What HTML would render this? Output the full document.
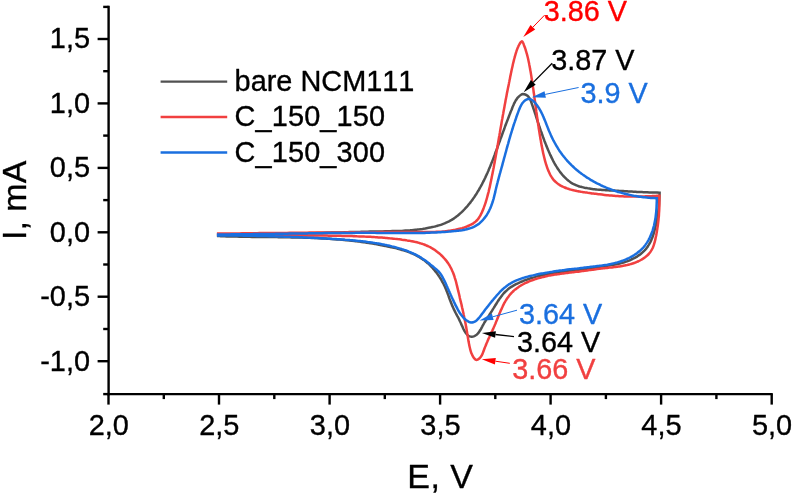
<!DOCTYPE html>
<html><head><meta charset="utf-8"><title>CV</title>
<style>html,body{margin:0;padding:0;background:#fff}body{width:792px;height:494px;overflow:hidden}</style></head>
<body>
<svg width="792" height="494" viewBox="0 0 792 494" style="display:block">
<rect width="792" height="494" fill="#fff"/>
<g fill="none" stroke-width="2.5" stroke-linejoin="miter" stroke-linecap="butt">
<path stroke="#515151" d="M216.9,234.8C217.3,234.8 218.6,234.8 219.4,234.8C220.3,234.8 221.1,234.8 221.9,234.8C222.8,234.8 223.6,234.8 224.4,234.8C225.3,234.8 226.1,234.8 227.0,234.8C227.8,234.8 228.6,234.8 229.5,234.8C230.3,234.8 231.2,234.8 232.0,234.8C232.8,234.8 233.7,234.8 234.5,234.8C235.3,234.8 236.2,234.8 237.0,234.8C237.9,234.8 238.7,234.8 239.5,234.8C240.4,234.8 241.2,234.7 242.0,234.7C242.9,234.7 243.7,234.7 244.6,234.7C245.4,234.7 246.2,234.7 247.1,234.7C247.9,234.7 248.7,234.7 249.6,234.7C250.4,234.6 251.2,234.6 252.1,234.6C252.9,234.6 253.8,234.6 254.6,234.6C255.4,234.6 256.3,234.6 257.1,234.5C257.9,234.5 258.8,234.5 259.6,234.5C260.4,234.5 261.3,234.5 262.1,234.5C263.0,234.5 263.8,234.4 264.6,234.4C265.5,234.4 266.3,234.4 267.1,234.4C268.0,234.4 268.8,234.3 269.6,234.3C270.5,234.3 271.3,234.3 272.2,234.3C273.0,234.3 273.8,234.2 274.7,234.2C275.5,234.2 276.3,234.2 277.2,234.2C278.0,234.1 278.8,234.1 279.7,234.1C280.5,234.1 281.3,234.1 282.2,234.0C283.0,234.0 283.9,234.0 284.7,234.0C285.5,234.0 286.4,233.9 287.2,233.9C288.0,233.9 288.9,233.9 289.7,233.9C290.5,233.8 291.4,233.8 292.2,233.8C293.0,233.8 293.9,233.7 294.7,233.7C295.5,233.7 296.4,233.7 297.2,233.7C298.1,233.6 298.9,233.6 299.7,233.6C300.6,233.6 301.4,233.5 302.2,233.5C303.1,233.5 303.9,233.5 304.7,233.4C305.6,233.4 306.4,233.4 307.2,233.4C308.1,233.4 308.9,233.3 309.8,233.3C310.6,233.3 311.4,233.3 312.3,233.2C313.1,233.2 313.9,233.2 314.8,233.2C315.6,233.1 316.4,233.1 317.3,233.1C318.1,233.1 318.9,233.0 319.8,233.0C320.6,233.0 321.4,233.0 322.3,232.9C323.1,232.9 324.0,232.9 324.8,232.9C325.6,232.8 326.5,232.8 327.3,232.8C328.1,232.8 329.0,232.7 329.8,232.7C330.6,232.7 331.5,232.7 332.3,232.6C333.2,232.6 334.0,232.6 334.8,232.6C335.7,232.5 336.5,232.5 337.3,232.5C338.2,232.5 339.0,232.5 339.8,232.4C340.7,232.4 341.5,232.4 342.4,232.4C343.2,232.3 344.0,232.3 344.9,232.3C345.7,232.3 346.5,232.2 347.4,232.2C348.2,232.2 349.0,232.2 349.9,232.1C350.7,232.1 351.6,232.1 352.4,232.1C353.2,232.1 354.1,232.0 354.9,232.0C355.7,232.0 356.6,232.0 357.4,231.9C358.3,231.9 359.1,231.9 359.9,231.9C360.8,231.9 361.6,231.8 362.4,231.8C363.3,231.8 364.1,231.8 365.0,231.8C365.8,231.7 366.6,231.7 367.5,231.7C368.3,231.7 369.1,231.7 370.0,231.6C370.8,231.6 371.7,231.6 372.5,231.6C373.3,231.6 374.2,231.5 375.0,231.5C375.9,231.5 376.7,231.5 377.5,231.5C378.4,231.4 379.2,231.4 380.0,231.4C380.9,231.4 381.7,231.4 382.6,231.4C383.4,231.3 384.2,231.3 385.1,231.3C385.9,231.3 386.8,231.3 387.6,231.3C388.4,231.2 389.3,231.2 390.1,231.2C391.0,231.2 391.8,231.2 392.6,231.1C393.5,231.1 394.3,231.1 395.1,231.1C396.0,231.0 396.8,231.0 397.7,231.0C398.5,230.9 399.3,230.9 400.2,230.9C401.0,230.8 401.8,230.8 402.7,230.8C403.5,230.7 404.4,230.7 405.2,230.6C406.0,230.6 406.9,230.5 407.7,230.5C408.5,230.4 409.4,230.3 410.2,230.3C411.0,230.2 411.9,230.1 412.7,230.1C413.5,230.0 414.4,229.9 415.2,229.8C416.0,229.7 416.9,229.6 417.7,229.5C418.5,229.4 419.3,229.3 420.2,229.2C421.0,229.1 421.8,229.0 422.6,228.9C423.5,228.7 424.3,228.6 425.1,228.5C425.9,228.3 426.8,228.2 427.6,228.0C428.4,227.9 429.2,227.7 430.1,227.6C430.9,227.4 431.7,227.2 432.5,227.0C433.3,226.9 434.1,226.7 435.0,226.5C435.8,226.3 436.6,226.0 437.4,225.8C438.2,225.6 439.0,225.4 439.8,225.1C440.6,224.9 441.4,224.6 442.1,224.3C442.9,224.0 443.7,223.7 444.5,223.4C445.2,223.1 446.0,222.8 446.8,222.4C447.5,222.1 448.3,221.7 449.0,221.4C449.7,221.0 450.4,220.6 451.2,220.2C451.9,219.7 452.6,219.3 453.3,218.9C454.0,218.4 454.7,217.9 455.3,217.4C456.0,216.9 456.7,216.4 457.3,215.9C458.0,215.4 458.6,214.9 459.3,214.3C459.9,213.8 460.5,213.2 461.2,212.6C461.8,212.1 462.4,211.5 463.0,210.9C463.6,210.3 464.2,209.7 464.8,209.0C465.3,208.4 465.9,207.8 466.5,207.2C467.0,206.5 467.6,205.9 468.1,205.2C468.7,204.6 469.2,203.9 469.7,203.3C470.3,202.6 470.8,201.9 471.3,201.3C471.8,200.6 472.3,199.9 472.8,199.2C473.3,198.5 473.7,197.8 474.2,197.2C474.7,196.5 475.1,195.8 475.6,195.1C476.1,194.4 476.5,193.7 477.0,192.9C477.4,192.2 477.8,191.5 478.3,190.8C478.7,190.1 479.1,189.4 479.5,188.6C479.9,187.9 480.3,187.2 480.7,186.5C481.1,185.7 481.5,185.0 481.9,184.3C482.3,183.5 482.7,182.8 483.1,182.0C483.5,181.3 483.8,180.5 484.2,179.8C484.6,179.1 484.9,178.3 485.3,177.5C485.6,176.8 486.0,176.0 486.3,175.3C486.7,174.5 487.0,173.8 487.4,173.0C487.7,172.2 488.0,171.5 488.4,170.7C488.7,169.9 489.0,169.2 489.3,168.4C489.7,167.6 490.0,166.9 490.3,166.1C490.6,165.3 490.9,164.5 491.2,163.8C491.5,163.0 491.9,162.2 492.2,161.4C492.5,160.6 492.8,159.9 493.1,159.1C493.4,158.3 493.7,157.5 494.0,156.7C494.3,156.0 494.6,155.2 494.9,154.4C495.1,153.6 495.4,152.8 495.7,152.1C496.0,151.3 496.3,150.5 496.6,149.7C496.9,148.9 497.2,148.1 497.5,147.4C497.8,146.6 498.0,145.8 498.3,145.0C498.6,144.2 498.9,143.4 499.2,142.6C499.5,141.9 499.8,141.1 500.1,140.3C500.3,139.5 500.6,138.7 500.9,137.9C501.2,137.2 501.5,136.4 501.8,135.6C502.1,134.8 502.3,134.0 502.6,133.2C502.9,132.4 503.2,131.7 503.5,130.9C503.8,130.1 504.1,129.3 504.4,128.5C504.6,127.7 504.9,126.9 505.2,126.1C505.5,125.4 505.8,124.6 506.1,123.8C506.4,123.0 506.7,122.2 507.0,121.4C507.3,120.6 507.6,119.9 507.9,119.1C508.2,118.3 508.5,117.5 508.8,116.7C509.1,115.9 509.4,115.2 509.7,114.4C510.0,113.6 510.3,112.8 510.6,112.0C510.9,111.2 511.3,110.4 511.6,109.7C511.9,108.9 512.2,108.1 512.5,107.3C512.8,106.5 513.2,105.7 513.5,105.0C513.8,104.2 514.2,103.4 514.6,102.7C514.9,101.9 515.3,101.2 515.7,100.5C516.2,99.8 516.6,99.1 517.1,98.4C517.6,97.8 518.2,97.2 518.8,96.6C519.4,96.0 520.0,95.4 520.7,95.0C521.4,94.6 522.2,94.2 522.9,94.1C523.7,94.1 524.6,94.2 525.3,94.5C526.1,94.8 526.9,95.3 527.5,95.8C528.2,96.4 528.7,97.0 529.2,97.7C529.7,98.4 530.0,99.1 530.4,99.9C530.8,100.6 531.0,101.4 531.3,102.2C531.6,103.0 531.9,103.8 532.1,104.7C532.4,105.5 532.7,106.3 533.0,107.1C533.2,107.9 533.5,108.7 533.8,109.5C534.0,110.3 534.3,111.1 534.6,111.9C534.8,112.7 535.1,113.5 535.4,114.3C535.6,115.1 535.9,115.9 536.1,116.7C536.4,117.5 536.7,118.3 536.9,119.1C537.2,119.9 537.4,120.7 537.7,121.5C538.0,122.3 538.2,123.1 538.5,123.8C538.8,124.6 539.0,125.4 539.3,126.2C539.6,127.0 539.8,127.8 540.1,128.6C540.4,129.4 540.6,130.2 540.9,131.0C541.2,131.7 541.5,132.5 541.7,133.3C542.0,134.1 542.3,134.9 542.6,135.7C542.8,136.5 543.1,137.2 543.4,138.0C543.7,138.8 544.0,139.6 544.3,140.4C544.6,141.1 544.9,141.9 545.2,142.7C545.5,143.5 545.8,144.2 546.1,145.0C546.4,145.8 546.7,146.6 547.0,147.3C547.3,148.1 547.7,148.9 548.0,149.7C548.3,150.4 548.7,151.2 549.0,152.0C549.3,152.7 549.7,153.5 550.0,154.3C550.4,155.0 550.7,155.8 551.1,156.5C551.4,157.3 551.8,158.1 552.2,158.8C552.5,159.6 552.9,160.3 553.3,161.1C553.7,161.8 554.1,162.5 554.5,163.3C554.9,164.0 555.3,164.7 555.8,165.5C556.2,166.2 556.6,166.9 557.1,167.6C557.5,168.3 558.0,169.0 558.5,169.7C558.9,170.4 559.4,171.1 559.9,171.7C560.4,172.4 560.9,173.1 561.5,173.7C562.0,174.4 562.5,175.0 563.1,175.6C563.6,176.2 564.2,176.8 564.8,177.4C565.4,178.0 566.0,178.6 566.6,179.2C567.2,179.7 567.9,180.3 568.5,180.8C569.2,181.3 569.9,181.8 570.5,182.3C571.2,182.7 571.9,183.2 572.6,183.6C573.4,184.0 574.1,184.4 574.9,184.7C575.6,185.1 576.4,185.4 577.2,185.7C577.9,186.0 578.7,186.2 579.6,186.5C580.4,186.7 581.2,186.9 582.0,187.1C582.8,187.3 583.7,187.5 584.5,187.7C585.3,187.8 586.2,188.0 587.0,188.1C587.8,188.3 588.6,188.4 589.5,188.5C590.3,188.7 591.1,188.8 592.0,188.9C592.8,189.0 593.6,189.1 594.5,189.2C595.3,189.3 596.1,189.4 597.0,189.5C597.8,189.5 598.6,189.6 599.5,189.7C600.3,189.8 601.1,189.8 602.0,189.9C602.8,190.0 603.6,190.0 604.5,190.1C605.3,190.1 606.1,190.2 607.0,190.2C607.8,190.3 608.6,190.3 609.5,190.4C610.3,190.4 611.1,190.5 612.0,190.5C612.8,190.6 613.6,190.6 614.5,190.6C615.3,190.7 616.1,190.7 617.0,190.8C617.8,190.8 618.6,190.9 619.5,190.9C620.3,191.0 621.1,191.0 622.0,191.0C622.8,191.1 623.6,191.1 624.5,191.2C625.3,191.2 626.1,191.3 627.0,191.3C627.8,191.4 628.7,191.4 629.5,191.5C630.3,191.5 631.2,191.6 632.0,191.6C632.8,191.6 633.7,191.7 634.5,191.7C635.3,191.8 636.2,191.8 637.0,191.9C637.9,191.9 638.7,191.9 639.5,192.0C640.4,192.0 641.2,192.1 642.0,192.1C642.9,192.1 643.7,192.2 644.6,192.2C645.4,192.3 646.2,192.3 647.1,192.3C647.9,192.4 648.7,192.4 649.6,192.4C650.4,192.5 651.2,192.5 652.1,192.5C652.9,192.5 653.8,192.6 654.6,192.6C655.4,192.6 656.3,192.6 657.1,192.6C657.9,192.7 659.2,192.7 659.6,192.7 C659.6,193.1 659.6,194.4 659.5,195.3C659.5,196.1 659.5,196.9 659.4,197.8C659.4,198.6 659.3,199.5 659.3,200.3C659.2,201.1 659.2,202.0 659.1,202.8C659.1,203.6 659.0,204.5 658.9,205.3C658.8,206.1 658.8,206.9 658.7,207.8C658.6,208.6 658.5,209.4 658.4,210.2C658.3,211.0 658.2,211.8 658.1,212.7C658.0,213.5 657.9,214.3 657.7,215.1C657.6,215.9 657.5,216.7 657.4,217.6C657.2,218.4 657.1,219.2 656.9,220.0C656.8,220.8 656.6,221.6 656.4,222.4C656.3,223.3 656.1,224.1 655.9,224.9C655.7,225.7 655.5,226.5 655.3,227.4C655.1,228.2 654.9,229.0 654.7,229.8C654.5,230.6 654.3,231.5 654.0,232.3C653.8,233.1 653.6,233.9 653.3,234.7C653.0,235.5 652.8,236.3 652.5,237.1C652.2,237.9 651.9,238.7 651.5,239.5C651.2,240.3 650.9,241.0 650.5,241.8C650.1,242.5 649.7,243.3 649.3,244.0C648.9,244.7 648.5,245.4 648.0,246.1C647.6,246.8 647.1,247.4 646.6,248.1C646.1,248.7 645.6,249.4 645.0,250.0C644.5,250.6 643.9,251.1 643.3,251.7C642.7,252.3 642.1,252.8 641.5,253.3C640.8,253.9 640.2,254.4 639.5,254.9C638.8,255.3 638.1,255.8 637.4,256.3C636.7,256.7 636.0,257.1 635.3,257.6C634.5,258.0 633.8,258.4 633.0,258.7C632.3,259.1 631.5,259.5 630.7,259.8C630.0,260.2 629.2,260.5 628.4,260.8C627.6,261.1 626.8,261.4 626.0,261.7C625.2,262.0 624.4,262.2 623.6,262.5C622.8,262.7 622.0,262.9 621.1,263.1C620.3,263.4 619.5,263.6 618.7,263.7C617.9,263.9 617.1,264.1 616.3,264.3C615.4,264.4 614.6,264.6 613.8,264.7C613.0,264.9 612.2,265.0 611.3,265.1C610.5,265.2 609.7,265.4 608.9,265.5C608.1,265.6 607.2,265.7 606.4,265.8C605.6,266.0 604.8,266.1 604.0,266.2C603.1,266.3 602.3,266.4 601.5,266.5C600.7,266.7 599.9,266.8 599.0,266.9C598.2,267.1 597.4,267.2 596.6,267.3C595.8,267.5 594.9,267.6 594.1,267.7C593.3,267.9 592.5,268.0 591.6,268.1C590.8,268.3 590.0,268.4 589.2,268.5C588.3,268.6 587.5,268.8 586.7,268.9C585.9,269.0 585.0,269.1 584.2,269.2C583.4,269.3 582.5,269.4 581.7,269.5C580.9,269.6 580.1,269.7 579.2,269.8C578.4,269.9 577.6,270.0 576.7,270.1C575.9,270.2 575.1,270.3 574.2,270.4C573.4,270.5 572.6,270.6 571.7,270.7C570.9,270.8 570.1,270.9 569.2,271.0C568.4,271.1 567.6,271.2 566.7,271.3C565.9,271.4 565.1,271.5 564.3,271.7C563.4,271.8 562.6,271.9 561.8,272.0C560.9,272.1 560.1,272.2 559.3,272.3C558.4,272.4 557.6,272.5 556.8,272.7C556.0,272.8 555.1,272.9 554.3,273.0C553.5,273.2 552.7,273.3 551.8,273.4C551.0,273.6 550.2,273.7 549.4,273.8C548.6,274.0 547.7,274.1 546.9,274.3C546.1,274.4 545.3,274.6 544.5,274.8C543.7,274.9 542.8,275.1 542.0,275.3C541.2,275.5 540.4,275.6 539.6,275.8C538.8,276.0 538.0,276.2 537.2,276.4C536.4,276.6 535.6,276.8 534.8,277.1C534.0,277.3 533.2,277.5 532.4,277.8C531.6,278.0 530.8,278.2 530.0,278.5C529.2,278.7 528.4,279.0 527.6,279.3C526.8,279.6 526.1,279.8 525.3,280.1C524.5,280.4 523.7,280.7 522.9,281.1C522.2,281.4 521.4,281.7 520.6,282.0C519.8,282.4 519.1,282.7 518.3,283.1C517.6,283.4 516.8,283.8 516.0,284.2C515.3,284.6 514.6,285.0 513.8,285.4C513.1,285.8 512.4,286.2 511.7,286.7C511.0,287.1 510.3,287.6 509.6,288.1C508.9,288.6 508.3,289.1 507.6,289.6C507.0,290.1 506.4,290.7 505.8,291.3C505.2,291.8 504.6,292.4 504.0,293.0C503.5,293.7 502.9,294.3 502.4,294.9C501.9,295.6 501.4,296.2 500.9,296.9C500.4,297.6 499.9,298.2 499.4,298.9C498.9,299.6 498.5,300.3 498.0,301.0C497.6,301.7 497.1,302.4 496.7,303.2C496.2,303.9 495.8,304.6 495.3,305.3C494.9,306.0 494.5,306.7 494.0,307.5C493.6,308.2 493.2,308.9 492.7,309.6C492.3,310.3 491.9,311.0 491.4,311.7C491.0,312.4 490.5,313.1 490.1,313.8C489.6,314.5 489.2,315.2 488.8,315.8C488.3,316.5 487.9,317.2 487.4,317.9C487.0,318.6 486.5,319.3 486.1,320.0C485.6,320.7 485.2,321.4 484.8,322.1C484.3,322.8 483.9,323.6 483.5,324.3C483.1,325.0 482.6,325.8 482.2,326.6C481.8,327.3 481.4,328.1 481.0,328.9C480.5,329.6 480.1,330.4 479.6,331.1C479.2,331.8 478.7,332.5 478.2,333.2C477.6,333.8 477.1,334.4 476.4,334.9C475.8,335.4 475.1,335.8 474.4,336.1C473.6,336.4 472.8,336.7 472.0,336.7C471.3,336.8 470.5,336.7 469.7,336.4C469.0,336.2 468.3,335.7 467.7,335.2C467.0,334.7 466.5,334.0 466.0,333.3C465.4,332.6 465.0,331.8 464.5,331.1C464.1,330.3 463.7,329.5 463.3,328.7C463.0,327.9 462.6,327.1 462.3,326.3C461.9,325.6 461.6,324.8 461.2,324.1C460.9,323.3 460.6,322.6 460.2,321.8C459.9,321.1 459.5,320.4 459.2,319.6C458.8,318.9 458.4,318.2 458.1,317.4C457.7,316.7 457.3,316.0 456.9,315.2C456.5,314.5 456.1,313.7 455.7,313.0C455.3,312.2 454.9,311.5 454.6,310.7C454.2,310.0 453.8,309.2 453.5,308.5C453.1,307.7 452.8,306.9 452.4,306.2C452.1,305.4 451.8,304.6 451.5,303.8C451.2,303.1 450.9,302.3 450.6,301.5C450.3,300.7 450.0,299.9 449.7,299.2C449.4,298.4 449.1,297.6 448.8,296.8C448.6,296.0 448.3,295.2 448.0,294.5C447.7,293.7 447.4,292.9 447.1,292.1C446.8,291.4 446.5,290.6 446.2,289.8C445.9,289.0 445.5,288.3 445.2,287.5C444.9,286.7 444.5,286.0 444.1,285.2C443.8,284.5 443.4,283.7 443.0,283.0C442.6,282.2 442.2,281.5 441.8,280.8C441.4,280.0 441.0,279.3 440.5,278.6C440.1,277.9 439.6,277.2 439.2,276.5C438.7,275.8 438.2,275.1 437.8,274.4C437.3,273.7 436.8,273.0 436.3,272.4C435.7,271.7 435.2,271.1 434.7,270.4C434.2,269.8 433.6,269.1 433.0,268.5C432.5,267.9 431.9,267.3 431.3,266.7C430.8,266.1 430.2,265.5 429.6,264.9C429.0,264.3 428.4,263.8 427.7,263.2C427.1,262.7 426.5,262.2 425.8,261.6C425.2,261.1 424.5,260.6 423.9,260.1C423.2,259.6 422.5,259.2 421.8,258.7C421.2,258.2 420.5,257.8 419.8,257.4C419.1,256.9 418.3,256.5 417.6,256.1C416.9,255.7 416.2,255.4 415.4,255.0C414.7,254.6 413.9,254.3 413.2,253.9C412.4,253.6 411.7,253.3 410.9,253.0C410.1,252.6 409.4,252.3 408.6,252.1C407.8,251.8 407.0,251.5 406.2,251.2C405.4,250.9 404.6,250.7 403.8,250.4C403.0,250.2 402.2,249.9 401.4,249.7C400.6,249.5 399.8,249.3 399.0,249.0C398.2,248.8 397.4,248.6 396.6,248.4C395.7,248.2 394.9,248.0 394.1,247.8C393.3,247.6 392.4,247.4 391.6,247.2C390.8,247.0 390.0,246.9 389.1,246.7C388.3,246.5 387.5,246.3 386.7,246.2C385.8,246.0 385.0,245.8 384.2,245.7C383.4,245.5 382.5,245.3 381.7,245.2C380.9,245.0 380.1,244.9 379.2,244.7C378.4,244.6 377.6,244.4 376.8,244.3C375.9,244.1 375.1,244.0 374.3,243.8C373.5,243.7 372.6,243.6 371.8,243.4C371.0,243.3 370.1,243.2 369.3,243.0C368.5,242.9 367.7,242.8 366.8,242.7C366.0,242.5 365.2,242.4 364.4,242.3C363.5,242.2 362.7,242.1 361.9,242.0C361.0,241.9 360.2,241.7 359.4,241.6C358.6,241.5 357.7,241.4 356.9,241.3C356.1,241.2 355.2,241.1 354.4,241.0C353.6,240.9 352.8,240.8 351.9,240.8C351.1,240.7 350.3,240.6 349.4,240.5C348.6,240.4 347.8,240.3 347.0,240.2C346.1,240.2 345.3,240.1 344.5,240.0C343.6,239.9 342.8,239.8 342.0,239.8C341.1,239.7 340.3,239.6 339.5,239.6C338.6,239.5 337.8,239.4 337.0,239.4C336.2,239.3 335.3,239.2 334.5,239.2C333.7,239.1 332.8,239.0 332.0,239.0C331.2,238.9 330.3,238.9 329.5,238.8C328.7,238.8 327.8,238.7 327.0,238.7C326.2,238.6 325.4,238.6 324.5,238.5C323.7,238.5 322.9,238.4 322.0,238.4C321.2,238.3 320.4,238.3 319.5,238.3C318.7,238.2 317.9,238.2 317.0,238.1C316.2,238.1 315.4,238.1 314.5,238.0C313.7,238.0 312.9,238.0 312.0,237.9C311.2,237.9 310.4,237.9 309.5,237.8C308.7,237.8 307.9,237.8 307.0,237.8C306.2,237.7 305.4,237.7 304.5,237.7C303.7,237.6 302.9,237.6 302.0,237.6C301.2,237.6 300.4,237.6 299.5,237.5C298.7,237.5 297.9,237.5 297.0,237.5C296.2,237.5 295.4,237.4 294.5,237.4C293.7,237.4 292.9,237.4 292.0,237.4C291.2,237.3 290.4,237.3 289.5,237.3C288.7,237.3 287.9,237.3 287.0,237.3C286.2,237.3 285.4,237.2 284.5,237.2C283.7,237.2 282.9,237.2 282.0,237.2C281.2,237.2 280.4,237.2 279.5,237.2C278.7,237.2 277.9,237.1 277.0,237.1C276.2,237.1 275.4,237.1 274.5,237.1C273.7,237.1 272.9,237.1 272.0,237.1C271.2,237.1 270.3,237.1 269.5,237.0C268.7,237.0 267.8,237.0 267.0,237.0C266.2,237.0 265.3,237.0 264.5,237.0C263.7,237.0 262.8,237.0 262.0,237.0C261.2,237.0 260.3,237.0 259.5,236.9C258.7,236.9 257.8,236.9 257.0,236.9C256.2,236.9 255.3,236.9 254.5,236.9C253.6,236.9 252.8,236.9 252.0,236.9C251.1,236.8 250.3,236.8 249.5,236.8C248.6,236.8 247.8,236.8 247.0,236.8C246.1,236.8 245.3,236.8 244.5,236.7C243.6,236.7 242.8,236.7 242.0,236.7C241.1,236.7 240.3,236.7 239.5,236.7C238.6,236.6 237.8,236.6 236.9,236.6C236.1,236.6 235.3,236.6 234.4,236.6C233.6,236.5 232.8,236.5 231.9,236.5C231.1,236.5 230.3,236.4 229.4,236.4C228.6,236.4 227.8,236.4 226.9,236.4C226.1,236.3 225.3,236.3 224.4,236.3C223.6,236.2 222.7,236.2 221.9,236.2C221.1,236.2 220.2,236.1 219.4,236.1C218.6,236.1 217.3,236.0 216.9,236.0"/>
<path stroke="#F14040" d="M216.9,233.6C217.3,233.6 218.6,233.6 219.4,233.6C220.3,233.6 221.1,233.6 221.9,233.5C222.8,233.5 223.6,233.5 224.4,233.5C225.3,233.5 226.1,233.5 227.0,233.5C227.8,233.5 228.6,233.5 229.5,233.5C230.3,233.5 231.1,233.4 232.0,233.4C232.8,233.4 233.7,233.4 234.5,233.4C235.3,233.4 236.2,233.4 237.0,233.4C237.8,233.4 238.7,233.4 239.5,233.4C240.3,233.3 241.2,233.3 242.0,233.3C242.9,233.3 243.7,233.3 244.5,233.3C245.4,233.3 246.2,233.3 247.0,233.3C247.9,233.3 248.7,233.3 249.5,233.2C250.4,233.2 251.2,233.2 252.1,233.2C252.9,233.2 253.7,233.2 254.6,233.2C255.4,233.2 256.2,233.2 257.1,233.2C257.9,233.2 258.7,233.2 259.6,233.1C260.4,233.1 261.2,233.1 262.1,233.1C262.9,233.1 263.7,233.1 264.6,233.1C265.4,233.1 266.3,233.1 267.1,233.1C267.9,233.1 268.8,233.0 269.6,233.0C270.4,233.0 271.3,233.0 272.1,233.0C272.9,233.0 273.8,233.0 274.6,233.0C275.4,233.0 276.3,233.0 277.1,233.0C277.9,233.0 278.8,232.9 279.6,232.9C280.4,232.9 281.3,232.9 282.1,232.9C282.9,232.9 283.8,232.9 284.6,232.9C285.4,232.9 286.3,232.9 287.1,232.9C288.0,232.8 288.8,232.8 289.6,232.8C290.5,232.8 291.3,232.8 292.1,232.8C293.0,232.8 293.8,232.8 294.6,232.8C295.5,232.8 296.3,232.8 297.1,232.8C298.0,232.8 298.8,232.7 299.6,232.7C300.5,232.7 301.3,232.7 302.1,232.7C303.0,232.7 303.8,232.7 304.6,232.7C305.5,232.7 306.3,232.7 307.1,232.7C308.0,232.7 308.8,232.7 309.6,232.6C310.5,232.6 311.3,232.6 312.1,232.6C313.0,232.6 313.8,232.6 314.6,232.6C315.5,232.6 316.3,232.6 317.1,232.6C318.0,232.6 318.8,232.6 319.6,232.6C320.5,232.5 321.3,232.5 322.1,232.5C323.0,232.5 323.8,232.5 324.7,232.5C325.5,232.5 326.3,232.5 327.2,232.5C328.0,232.5 328.8,232.5 329.7,232.5C330.5,232.5 331.3,232.5 332.2,232.5C333.0,232.4 333.8,232.4 334.7,232.4C335.5,232.4 336.3,232.4 337.2,232.4C338.0,232.4 338.8,232.4 339.7,232.4C340.5,232.4 341.3,232.4 342.2,232.4C343.0,232.4 343.8,232.4 344.7,232.4C345.5,232.3 346.3,232.3 347.2,232.3C348.0,232.3 348.8,232.3 349.7,232.3C350.5,232.3 351.3,232.3 352.2,232.3C353.0,232.3 353.9,232.3 354.7,232.3C355.5,232.3 356.4,232.3 357.2,232.3C358.0,232.3 358.9,232.3 359.7,232.3C360.5,232.2 361.4,232.2 362.2,232.2C363.0,232.2 363.9,232.2 364.7,232.2C365.5,232.2 366.4,232.2 367.2,232.2C368.0,232.2 368.9,232.2 369.7,232.2C370.6,232.2 371.4,232.2 372.2,232.2C373.1,232.2 373.9,232.2 374.7,232.2C375.6,232.2 376.4,232.2 377.2,232.2C378.1,232.2 378.9,232.1 379.7,232.1C380.6,232.1 381.4,232.1 382.3,232.1C383.1,232.1 383.9,232.1 384.8,232.1C385.6,232.1 386.4,232.1 387.3,232.1C388.1,232.1 388.9,232.1 389.8,232.1C390.6,232.1 391.5,232.1 392.3,232.1C393.1,232.1 394.0,232.1 394.8,232.1C395.6,232.1 396.5,232.1 397.3,232.1C398.2,232.1 399.0,232.1 399.8,232.1C400.7,232.1 401.5,232.1 402.3,232.1C403.2,232.1 404.0,232.1 404.9,232.1C405.7,232.1 406.5,232.1 407.4,232.1C408.2,232.0 409.0,232.0 409.9,232.0C410.7,232.0 411.6,232.0 412.4,232.0C413.2,232.0 414.1,232.0 414.9,232.0C415.8,232.0 416.6,232.0 417.4,232.0C418.3,232.0 419.1,232.0 419.9,232.0C420.8,232.0 421.6,232.0 422.5,232.0C423.3,232.0 424.1,232.0 425.0,232.0C425.8,232.0 426.7,232.0 427.5,232.0C428.3,232.0 429.2,232.0 430.0,232.0C430.9,232.0 431.7,232.0 432.5,231.9C433.4,231.9 434.2,231.9 435.0,231.9C435.9,231.9 436.7,231.8 437.5,231.8C438.4,231.7 439.2,231.7 440.0,231.7C440.9,231.6 441.7,231.5 442.5,231.5C443.4,231.4 444.2,231.3 445.0,231.3C445.9,231.2 446.7,231.1 447.5,231.0C448.3,230.9 449.2,230.8 450.0,230.7C450.8,230.6 451.6,230.4 452.4,230.3C453.3,230.2 454.1,230.0 454.9,229.9C455.7,229.7 456.5,229.5 457.3,229.3C458.1,229.2 458.9,229.0 459.7,228.7C460.6,228.5 461.4,228.3 462.2,228.1C463.0,227.8 463.8,227.6 464.6,227.3C465.4,227.0 466.1,226.8 466.9,226.5C467.7,226.1 468.5,225.8 469.3,225.5C470.0,225.1 470.8,224.8 471.5,224.4C472.2,224.0 473.0,223.5 473.6,223.1C474.3,222.6 475.0,222.1 475.6,221.6C476.2,221.1 476.8,220.5 477.3,219.9C477.9,219.3 478.4,218.6 478.8,218.0C479.3,217.3 479.8,216.6 480.2,215.8C480.6,215.1 481.0,214.3 481.3,213.6C481.7,212.8 482.1,212.0 482.4,211.2C482.7,210.5 483.0,209.7 483.4,208.9C483.7,208.1 484.0,207.3 484.2,206.5C484.5,205.7 484.8,204.9 485.1,204.1C485.4,203.3 485.6,202.5 485.9,201.7C486.1,200.9 486.4,200.0 486.6,199.2C486.8,198.4 487.1,197.6 487.3,196.8C487.5,196.0 487.7,195.2 487.9,194.4C488.1,193.6 488.4,192.8 488.6,192.0C488.7,191.2 488.9,190.4 489.1,189.5C489.3,188.7 489.5,187.9 489.7,187.1C489.9,186.3 490.0,185.5 490.2,184.7C490.4,183.9 490.6,183.0 490.7,182.2C490.9,181.4 491.1,180.6 491.2,179.8C491.4,179.0 491.6,178.2 491.7,177.3C491.9,176.5 492.1,175.7 492.2,174.9C492.4,174.1 492.6,173.3 492.7,172.4C492.9,171.6 493.0,170.8 493.2,170.0C493.3,169.2 493.5,168.4 493.7,167.5C493.8,166.7 494.0,165.9 494.1,165.1C494.3,164.3 494.4,163.4 494.6,162.6C494.7,161.8 494.9,161.0 495.0,160.2C495.2,159.3 495.3,158.5 495.5,157.7C495.6,156.9 495.8,156.1 495.9,155.2C496.1,154.4 496.2,153.6 496.4,152.8C496.5,152.0 496.6,151.1 496.8,150.3C496.9,149.5 497.1,148.7 497.2,147.8C497.4,147.0 497.5,146.2 497.7,145.4C497.8,144.6 497.9,143.7 498.1,142.9C498.2,142.1 498.4,141.3 498.5,140.4C498.7,139.6 498.8,138.8 498.9,138.0C499.1,137.1 499.2,136.3 499.4,135.5C499.5,134.7 499.6,133.9 499.8,133.0C499.9,132.2 500.1,131.4 500.2,130.6C500.4,129.7 500.5,128.9 500.6,128.1C500.8,127.3 500.9,126.4 501.1,125.6C501.2,124.8 501.4,124.0 501.5,123.1C501.6,122.3 501.8,121.5 501.9,120.7C502.1,119.8 502.2,119.0 502.4,118.2C502.5,117.4 502.7,116.5 502.8,115.7C503.0,114.9 503.1,114.1 503.3,113.2C503.4,112.4 503.6,111.6 503.7,110.7C503.9,109.9 504.0,109.1 504.2,108.3C504.3,107.4 504.5,106.6 504.6,105.8C504.8,105.0 504.9,104.1 505.1,103.3C505.2,102.5 505.4,101.7 505.5,100.8C505.7,100.0 505.8,99.2 506.0,98.4C506.2,97.6 506.3,96.7 506.5,95.9C506.6,95.1 506.8,94.3 506.9,93.4C507.1,92.6 507.3,91.8 507.4,91.0C507.6,90.2 507.7,89.4 507.9,88.5C508.1,87.7 508.2,86.9 508.4,86.1C508.6,85.3 508.7,84.5 508.9,83.7C509.0,82.8 509.2,82.0 509.4,81.2C509.5,80.4 509.7,79.6 509.9,78.8C510.0,78.0 510.2,77.2 510.3,76.4C510.5,75.6 510.7,74.8 510.8,74.0C511.0,73.2 511.2,72.4 511.3,71.6C511.5,70.8 511.7,70.0 511.8,69.2C512.0,68.4 512.2,67.6 512.4,66.8C512.6,66.0 512.7,65.2 512.9,64.3C513.1,63.5 513.3,62.7 513.5,61.9C513.7,61.1 513.9,60.2 514.1,59.4C514.4,58.6 514.6,57.7 514.8,56.9C515.0,56.0 515.3,55.1 515.5,54.3C515.8,53.4 516.0,52.5 516.3,51.7C516.6,50.8 516.9,50.0 517.2,49.1C517.5,48.3 517.8,47.5 518.2,46.7C518.5,45.9 518.9,45.2 519.3,44.5C519.7,43.8 520.1,43.0 520.6,42.5C521.0,42.0 521.5,41.3 521.9,41.3C522.3,41.3 522.7,42.0 523.0,42.6C523.4,43.2 523.6,44.1 523.9,44.9C524.2,45.6 524.5,46.4 524.8,47.2C525.1,48.0 525.3,48.8 525.6,49.6C525.8,50.4 526.1,51.2 526.3,52.0C526.5,52.8 526.7,53.6 527.0,54.4C527.2,55.2 527.4,56.0 527.6,56.8C527.8,57.6 528.0,58.4 528.2,59.2C528.4,60.1 528.5,60.9 528.7,61.7C528.9,62.5 529.1,63.3 529.2,64.2C529.4,65.0 529.5,65.8 529.7,66.6C529.8,67.5 530.0,68.3 530.1,69.1C530.3,69.9 530.4,70.8 530.6,71.6C530.7,72.4 530.9,73.3 531.0,74.1C531.1,74.9 531.3,75.8 531.4,76.6C531.5,77.4 531.6,78.3 531.8,79.1C531.9,79.9 532.0,80.7 532.2,81.6C532.3,82.4 532.4,83.2 532.5,84.1C532.6,84.9 532.8,85.7 532.9,86.6C533.0,87.4 533.1,88.2 533.3,89.1C533.4,89.9 533.5,90.7 533.6,91.5C533.7,92.4 533.8,93.2 534.0,94.0C534.1,94.9 534.2,95.7 534.3,96.5C534.4,97.4 534.5,98.2 534.6,99.0C534.8,99.8 534.9,100.7 535.0,101.5C535.1,102.3 535.2,103.2 535.3,104.0C535.4,104.8 535.5,105.6 535.7,106.5C535.8,107.3 535.9,108.1 536.0,109.0C536.1,109.8 536.2,110.6 536.3,111.4C536.5,112.3 536.6,113.1 536.7,113.9C536.8,114.7 536.9,115.6 537.0,116.4C537.1,117.2 537.3,118.0 537.4,118.9C537.5,119.7 537.6,120.5 537.7,121.3C537.9,122.2 538.0,123.0 538.1,123.8C538.2,124.6 538.3,125.5 538.5,126.3C538.6,127.1 538.7,127.9 538.8,128.7C539.0,129.6 539.1,130.4 539.2,131.2C539.4,132.0 539.5,132.8 539.6,133.7C539.8,134.5 539.9,135.3 540.0,136.1C540.2,136.9 540.3,137.8 540.4,138.6C540.6,139.4 540.7,140.2 540.9,141.0C541.0,141.8 541.1,142.7 541.3,143.5C541.4,144.3 541.6,145.1 541.7,145.9C541.9,146.7 542.1,147.5 542.2,148.4C542.4,149.2 542.5,150.0 542.7,150.8C542.9,151.6 543.0,152.4 543.2,153.2C543.4,154.0 543.6,154.9 543.8,155.7C544.0,156.5 544.1,157.3 544.4,158.1C544.6,158.9 544.8,159.8 545.0,160.6C545.2,161.4 545.5,162.2 545.7,163.0C545.9,163.9 546.2,164.7 546.5,165.5C546.7,166.3 547.0,167.2 547.3,168.0C547.6,168.8 547.9,169.6 548.2,170.4C548.6,171.2 548.9,172.0 549.3,172.8C549.6,173.6 550.0,174.3 550.4,175.1C550.8,175.8 551.3,176.5 551.7,177.2C552.2,177.9 552.6,178.6 553.1,179.2C553.6,179.9 554.2,180.5 554.7,181.0C555.3,181.6 555.9,182.1 556.5,182.6C557.1,183.2 557.7,183.6 558.3,184.1C559.0,184.5 559.7,185.0 560.3,185.4C561.0,185.8 561.7,186.2 562.5,186.5C563.2,186.9 563.9,187.2 564.7,187.5C565.4,187.8 566.2,188.1 567.0,188.4C567.8,188.7 568.6,188.9 569.4,189.2C570.2,189.4 571.0,189.6 571.8,189.9C572.7,190.1 573.5,190.3 574.3,190.4C575.2,190.6 576.0,190.8 576.9,191.0C577.7,191.1 578.6,191.3 579.4,191.4C580.3,191.6 581.1,191.7 582.0,191.9C582.8,192.0 583.7,192.1 584.5,192.3C585.4,192.4 586.2,192.5 587.1,192.6C587.9,192.8 588.8,192.9 589.6,193.0C590.4,193.1 591.3,193.3 592.1,193.4C592.9,193.5 593.8,193.6 594.6,193.7C595.4,193.8 596.3,193.9 597.1,194.0C597.9,194.1 598.7,194.2 599.6,194.3C600.4,194.4 601.2,194.5 602.0,194.6C602.8,194.7 603.7,194.8 604.5,194.9C605.3,195.0 606.1,195.1 606.9,195.2C607.7,195.3 608.6,195.3 609.4,195.4C610.2,195.5 611.0,195.6 611.8,195.6C612.6,195.7 613.5,195.8 614.3,195.8C615.1,195.9 615.9,195.9 616.7,196.0C617.6,196.1 618.4,196.1 619.2,196.2C620.0,196.2 620.9,196.2 621.7,196.3C622.5,196.3 623.3,196.4 624.2,196.4C625.0,196.4 625.8,196.4 626.7,196.5C627.5,196.5 628.4,196.5 629.2,196.5C630.0,196.5 630.9,196.5 631.7,196.5C632.6,196.5 633.4,196.5 634.3,196.5C635.1,196.5 636.0,196.5 636.8,196.5C637.7,196.5 638.5,196.5 639.4,196.5C640.2,196.5 641.0,196.5 641.9,196.4C642.7,196.4 643.6,196.4 644.4,196.4C645.3,196.4 646.1,196.3 647.0,196.3C647.8,196.3 648.6,196.2 649.5,196.2C650.3,196.2 651.2,196.1 652.0,196.1C652.8,196.0 653.7,196.0 654.5,196.0C655.3,195.9 656.1,195.9 657.0,195.8C657.8,195.8 659.0,195.7 659.4,195.7 C659.4,196.1 659.4,197.4 659.4,198.3C659.4,199.1 659.4,200.0 659.4,200.8C659.4,201.7 659.4,202.5 659.4,203.3C659.4,204.2 659.4,205.0 659.4,205.8C659.4,206.7 659.3,207.5 659.3,208.3C659.3,209.2 659.2,210.0 659.2,210.8C659.1,211.6 659.1,212.5 659.0,213.3C659.0,214.1 658.9,214.9 658.9,215.8C658.8,216.6 658.7,217.4 658.6,218.2C658.6,219.0 658.5,219.8 658.4,220.7C658.3,221.5 658.2,222.3 658.1,223.1C658.0,223.9 657.9,224.8 657.8,225.6C657.7,226.4 657.6,227.2 657.4,228.0C657.3,228.9 657.2,229.7 657.0,230.5C656.9,231.3 656.8,232.2 656.6,233.0C656.5,233.8 656.3,234.7 656.2,235.5C656.0,236.3 655.8,237.2 655.6,238.0C655.5,238.8 655.3,239.7 655.1,240.5C654.9,241.4 654.7,242.2 654.4,243.0C654.2,243.8 654.0,244.6 653.7,245.4C653.4,246.2 653.1,247.0 652.8,247.8C652.4,248.6 652.1,249.3 651.6,250.0C651.2,250.7 650.8,251.4 650.3,252.1C649.8,252.7 649.3,253.4 648.8,254.0C648.2,254.6 647.6,255.2 647.0,255.7C646.4,256.3 645.7,256.8 645.1,257.3C644.4,257.8 643.7,258.3 643.0,258.7C642.3,259.2 641.6,259.6 640.8,260.0C640.1,260.4 639.4,260.8 638.6,261.1C637.9,261.5 637.1,261.8 636.4,262.1C635.6,262.5 634.8,262.8 634.1,263.0C633.3,263.3 632.5,263.6 631.7,263.8C630.9,264.0 630.1,264.3 629.3,264.5C628.5,264.7 627.7,264.9 626.9,265.1C626.1,265.3 625.3,265.4 624.5,265.6C623.7,265.7 622.8,265.9 622.0,266.0C621.2,266.2 620.4,266.3 619.5,266.4C618.7,266.5 617.9,266.7 617.0,266.8C616.2,266.9 615.4,267.0 614.5,267.1C613.7,267.2 612.8,267.3 612.0,267.4C611.2,267.5 610.3,267.5 609.5,267.6C608.6,267.7 607.8,267.8 607.0,267.9C606.1,268.0 605.3,268.1 604.4,268.2C603.6,268.3 602.8,268.3 601.9,268.4C601.1,268.5 600.3,268.7 599.4,268.8C598.6,268.9 597.8,269.0 597.0,269.1C596.1,269.2 595.3,269.3 594.5,269.4C593.7,269.5 592.8,269.6 592.0,269.8C591.2,269.9 590.4,270.0 589.5,270.1C588.7,270.2 587.9,270.3 587.1,270.5C586.2,270.6 585.4,270.7 584.6,270.8C583.8,270.9 583.0,271.0 582.1,271.1C581.3,271.2 580.5,271.3 579.7,271.4C578.8,271.5 578.0,271.6 577.2,271.7C576.4,271.8 575.5,271.9 574.7,272.0C573.9,272.1 573.1,272.2 572.2,272.3C571.4,272.4 570.6,272.5 569.8,272.6C568.9,272.7 568.1,272.8 567.3,272.9C566.5,273.0 565.6,273.1 564.8,273.2C564.0,273.3 563.2,273.4 562.3,273.5C561.5,273.6 560.7,273.7 559.9,273.9C559.0,274.0 558.2,274.1 557.4,274.2C556.6,274.3 555.7,274.5 554.9,274.6C554.1,274.7 553.3,274.9 552.5,275.0C551.6,275.1 550.8,275.3 550.0,275.4C549.2,275.6 548.3,275.8 547.5,275.9C546.7,276.1 545.9,276.3 545.1,276.5C544.2,276.7 543.4,276.8 542.6,277.1C541.8,277.3 541.0,277.5 540.2,277.7C539.3,277.9 538.5,278.1 537.7,278.4C536.9,278.6 536.1,278.9 535.3,279.1C534.5,279.4 533.7,279.7 532.9,280.0C532.1,280.3 531.3,280.6 530.5,280.9C529.7,281.2 528.9,281.5 528.2,281.8C527.4,282.2 526.6,282.5 525.9,282.9C525.1,283.2 524.4,283.6 523.6,284.0C522.9,284.4 522.2,284.8 521.4,285.2C520.7,285.7 520.0,286.1 519.3,286.5C518.6,287.0 518.0,287.4 517.3,287.9C516.6,288.4 516.0,288.9 515.3,289.4C514.7,289.9 514.1,290.5 513.5,291.0C512.9,291.6 512.3,292.1 511.7,292.7C511.2,293.3 510.6,293.9 510.1,294.5C509.6,295.1 509.0,295.8 508.6,296.4C508.1,297.1 507.6,297.7 507.1,298.4C506.7,299.1 506.2,299.8 505.8,300.5C505.4,301.2 504.9,302.0 504.5,302.7C504.1,303.4 503.8,304.2 503.4,304.9C503.0,305.7 502.6,306.5 502.3,307.2C501.9,308.0 501.6,308.8 501.2,309.6C500.9,310.3 500.5,311.1 500.2,311.9C499.9,312.7 499.5,313.5 499.2,314.3C498.9,315.1 498.6,315.9 498.2,316.7C497.9,317.5 497.6,318.3 497.3,319.0C497.0,319.8 496.6,320.6 496.3,321.4C496.0,322.2 495.7,322.9 495.4,323.7C495.0,324.5 494.7,325.2 494.4,326.0C494.0,326.8 493.7,327.5 493.4,328.3C493.0,329.0 492.7,329.7 492.4,330.5C492.0,331.2 491.7,332.0 491.3,332.7C491.0,333.4 490.7,334.2 490.3,334.9C490.0,335.7 489.6,336.4 489.3,337.2C489.0,337.9 488.6,338.6 488.3,339.4C487.9,340.2 487.6,340.9 487.3,341.7C487.0,342.4 486.6,343.2 486.3,344.0C486.0,344.8 485.7,345.6 485.4,346.3C485.0,347.1 484.7,348.0 484.4,348.8C484.1,349.6 483.8,350.4 483.5,351.2C483.2,352.0 482.9,352.9 482.6,353.7C482.2,354.4 481.8,355.2 481.4,355.9C481.0,356.6 480.5,357.3 479.9,357.9C479.4,358.5 478.7,359.1 478.1,359.4C477.4,359.8 476.7,360.1 476.0,359.9C475.4,359.7 474.8,359.0 474.3,358.4C473.7,357.8 473.3,357.0 472.9,356.3C472.4,355.6 472.1,354.8 471.8,354.0C471.4,353.3 471.1,352.5 470.9,351.7C470.6,350.9 470.4,350.0 470.2,349.2C470.0,348.4 469.8,347.6 469.6,346.7C469.4,345.9 469.2,345.1 469.1,344.2C468.9,343.4 468.8,342.6 468.6,341.8C468.5,340.9 468.3,340.1 468.2,339.3C468.0,338.4 467.9,337.6 467.8,336.8C467.6,335.9 467.5,335.1 467.4,334.3C467.2,333.5 467.1,332.6 467.0,331.8C466.8,331.0 466.7,330.2 466.6,329.4C466.4,328.5 466.3,327.7 466.1,326.9C466.0,326.1 465.8,325.3 465.7,324.5C465.5,323.6 465.4,322.8 465.2,322.0C465.1,321.2 464.9,320.4 464.7,319.6C464.6,318.8 464.4,318.0 464.2,317.2C464.1,316.3 463.9,315.5 463.7,314.7C463.6,313.9 463.4,313.1 463.2,312.3C463.0,311.5 462.8,310.7 462.7,309.9C462.5,309.1 462.3,308.3 462.1,307.5C461.9,306.6 461.7,305.8 461.6,305.0C461.4,304.2 461.2,303.4 461.0,302.6C460.8,301.8 460.6,301.0 460.4,300.2C460.2,299.4 460.0,298.5 459.8,297.7C459.7,296.9 459.5,296.1 459.3,295.3C459.1,294.5 458.9,293.6 458.7,292.8C458.5,292.0 458.3,291.2 458.1,290.4C457.9,289.5 457.7,288.7 457.5,287.9C457.3,287.1 457.1,286.2 456.9,285.4C456.7,284.6 456.5,283.8 456.3,282.9C456.1,282.1 455.9,281.3 455.7,280.5C455.4,279.7 455.2,278.9 454.9,278.1C454.7,277.3 454.4,276.5 454.2,275.7C453.9,274.9 453.6,274.1 453.3,273.3C453.0,272.5 452.7,271.8 452.3,271.0C452.0,270.2 451.7,269.5 451.3,268.7C450.9,268.0 450.5,267.3 450.1,266.5C449.7,265.8 449.3,265.1 448.9,264.4C448.4,263.7 448.0,263.0 447.5,262.4C447.0,261.7 446.5,261.0 446.0,260.4C445.5,259.7 444.9,259.1 444.4,258.5C443.8,257.8 443.3,257.2 442.7,256.6C442.1,256.0 441.5,255.5 440.9,254.9C440.3,254.3 439.7,253.8 439.1,253.3C438.4,252.7 437.8,252.2 437.1,251.7C436.4,251.2 435.8,250.7 435.1,250.2C434.4,249.8 433.7,249.3 433.0,248.9C432.3,248.5 431.6,248.0 430.9,247.6C430.1,247.2 429.4,246.9 428.7,246.5C427.9,246.1 427.2,245.8 426.4,245.5C425.6,245.1 424.9,244.8 424.1,244.5C423.3,244.3 422.5,244.0 421.8,243.7C421.0,243.5 420.2,243.2 419.4,243.0C418.6,242.8 417.8,242.5 417.0,242.3C416.2,242.1 415.3,241.9 414.5,241.8C413.7,241.6 412.9,241.4 412.1,241.2C411.2,241.1 410.4,240.9 409.6,240.8C408.7,240.6 407.9,240.5 407.1,240.4C406.2,240.2 405.4,240.1 404.6,240.0C403.7,239.9 402.9,239.8 402.1,239.7C401.2,239.5 400.4,239.4 399.5,239.3C398.7,239.2 397.9,239.1 397.0,239.0C396.2,238.9 395.4,238.8 394.5,238.8C393.7,238.7 392.8,238.6 392.0,238.5C391.2,238.4 390.3,238.3 389.5,238.3C388.7,238.2 387.8,238.1 387.0,238.0C386.2,237.9 385.3,237.9 384.5,237.8C383.7,237.7 382.8,237.7 382.0,237.6C381.2,237.5 380.3,237.5 379.5,237.4C378.7,237.4 377.8,237.3 377.0,237.2C376.2,237.2 375.3,237.1 374.5,237.1C373.7,237.0 372.8,237.0 372.0,236.9C371.2,236.9 370.3,236.8 369.5,236.8C368.7,236.8 367.9,236.7 367.0,236.7C366.2,236.6 365.4,236.6 364.5,236.6C363.7,236.5 362.9,236.5 362.0,236.5C361.2,236.4 360.4,236.4 359.5,236.4C358.7,236.3 357.9,236.3 357.0,236.3C356.2,236.2 355.4,236.2 354.6,236.2C353.7,236.2 352.9,236.1 352.1,236.1C351.2,236.1 350.4,236.1 349.6,236.0C348.7,236.0 347.9,236.0 347.1,236.0C346.3,236.0 345.4,235.9 344.6,235.9C343.8,235.9 342.9,235.9 342.1,235.9C341.3,235.9 340.4,235.8 339.6,235.8C338.8,235.8 337.9,235.8 337.1,235.8C336.3,235.8 335.4,235.8 334.6,235.7C333.8,235.7 332.9,235.7 332.1,235.7C331.3,235.7 330.5,235.7 329.6,235.7C328.8,235.7 328.0,235.6 327.1,235.6C326.3,235.6 325.5,235.6 324.6,235.6C323.8,235.6 323.0,235.6 322.1,235.6C321.3,235.6 320.4,235.5 319.6,235.5C318.8,235.5 317.9,235.5 317.1,235.5C316.3,235.5 315.4,235.5 314.6,235.5C313.8,235.5 312.9,235.4 312.1,235.4C311.3,235.4 310.4,235.4 309.6,235.4C308.8,235.4 307.9,235.4 307.1,235.4C306.3,235.4 305.4,235.4 304.6,235.4C303.7,235.3 302.9,235.3 302.1,235.3C301.2,235.3 300.4,235.3 299.6,235.3C298.7,235.3 297.9,235.3 297.1,235.3C296.2,235.3 295.4,235.3 294.5,235.3C293.7,235.2 292.9,235.2 292.0,235.2C291.2,235.2 290.4,235.2 289.5,235.2C288.7,235.2 287.9,235.2 287.0,235.2C286.2,235.2 285.3,235.2 284.5,235.2C283.7,235.2 282.8,235.1 282.0,235.1C281.2,235.1 280.3,235.1 279.5,235.1C278.7,235.1 277.8,235.1 277.0,235.1C276.1,235.1 275.3,235.1 274.5,235.1C273.6,235.1 272.8,235.1 272.0,235.0C271.1,235.0 270.3,235.0 269.4,235.0C268.6,235.0 267.8,235.0 266.9,235.0C266.1,235.0 265.3,235.0 264.4,235.0C263.6,235.0 262.8,235.0 261.9,235.0C261.1,235.0 260.2,234.9 259.4,234.9C258.6,234.9 257.7,234.9 256.9,234.9C256.1,234.9 255.2,234.9 254.4,234.9C253.6,234.9 252.7,234.9 251.9,234.9C251.1,234.9 250.2,234.9 249.4,234.8C248.5,234.8 247.7,234.8 246.9,234.8C246.0,234.8 245.2,234.8 244.4,234.8C243.5,234.8 242.7,234.8 241.9,234.8C241.0,234.8 240.2,234.8 239.4,234.8C238.5,234.7 237.7,234.7 236.9,234.7C236.0,234.7 235.2,234.7 234.4,234.7C233.5,234.7 232.7,234.7 231.9,234.7C231.0,234.7 230.2,234.7 229.4,234.6C228.5,234.6 227.7,234.6 226.9,234.6C226.0,234.6 225.2,234.6 224.4,234.6C223.5,234.6 222.7,234.6 221.9,234.6C221.1,234.6 220.2,234.5 219.4,234.5C218.6,234.5 217.3,234.5 216.9,234.5"/>
<path stroke="#1A6FDF" d="M216.9,234.4C217.3,234.4 218.6,234.4 219.4,234.4C220.2,234.4 221.0,234.4 221.9,234.4C222.7,234.4 223.5,234.4 224.4,234.4C225.2,234.4 226.0,234.4 226.9,234.4C227.7,234.4 228.5,234.4 229.4,234.4C230.2,234.4 231.0,234.4 231.9,234.3C232.7,234.3 233.5,234.3 234.3,234.3C235.2,234.3 236.0,234.3 236.8,234.3C237.7,234.3 238.5,234.3 239.3,234.3C240.2,234.3 241.0,234.3 241.8,234.3C242.7,234.3 243.5,234.3 244.3,234.2C245.2,234.2 246.0,234.2 246.8,234.2C247.7,234.2 248.5,234.2 249.3,234.2C250.2,234.2 251.0,234.2 251.8,234.2C252.7,234.2 253.5,234.2 254.3,234.1C255.2,234.1 256.0,234.1 256.8,234.1C257.7,234.1 258.5,234.1 259.3,234.1C260.2,234.1 261.0,234.1 261.8,234.0C262.7,234.0 263.5,234.0 264.3,234.0C265.2,234.0 266.0,234.0 266.8,234.0C267.7,234.0 268.5,234.0 269.3,233.9C270.2,233.9 271.0,233.9 271.8,233.9C272.7,233.9 273.5,233.9 274.3,233.9C275.2,233.9 276.0,233.8 276.9,233.8C277.7,233.8 278.5,233.8 279.4,233.8C280.2,233.8 281.0,233.8 281.9,233.8C282.7,233.7 283.5,233.7 284.4,233.7C285.2,233.7 286.0,233.7 286.9,233.7C287.7,233.7 288.5,233.7 289.4,233.6C290.2,233.6 291.0,233.6 291.9,233.6C292.7,233.6 293.6,233.6 294.4,233.6C295.2,233.5 296.1,233.5 296.9,233.5C297.7,233.5 298.6,233.5 299.4,233.5C300.2,233.5 301.1,233.5 301.9,233.4C302.7,233.4 303.6,233.4 304.4,233.4C305.2,233.4 306.1,233.4 306.9,233.4C307.8,233.4 308.6,233.3 309.4,233.3C310.3,233.3 311.1,233.3 311.9,233.3C312.8,233.3 313.6,233.3 314.4,233.3C315.3,233.2 316.1,233.2 316.9,233.2C317.8,233.2 318.6,233.2 319.4,233.2C320.3,233.2 321.1,233.2 322.0,233.2C322.8,233.1 323.6,233.1 324.5,233.1C325.3,233.1 326.1,233.1 327.0,233.1C327.8,233.1 328.6,233.1 329.5,233.1C330.3,233.1 331.1,233.0 332.0,233.0C332.8,233.0 333.6,233.0 334.5,233.0C335.3,233.0 336.1,233.0 337.0,233.0C337.8,233.0 338.6,233.0 339.5,233.0C340.3,233.0 341.1,232.9 342.0,232.9C342.8,232.9 343.7,232.9 344.5,232.9C345.3,232.9 346.2,232.9 347.0,232.9C347.8,232.9 348.7,232.9 349.5,232.9C350.3,232.9 351.2,232.9 352.0,232.9C352.8,232.9 353.7,232.9 354.5,232.9C355.3,232.9 356.2,232.8 357.0,232.8C357.8,232.8 358.7,232.8 359.5,232.8C360.3,232.8 361.2,232.8 362.0,232.8C362.8,232.8 363.7,232.8 364.5,232.8C365.3,232.8 366.2,232.8 367.0,232.8C367.8,232.8 368.6,232.8 369.5,232.8C370.3,232.8 371.1,232.8 372.0,232.8C372.8,232.8 373.6,232.8 374.5,232.8C375.3,232.8 376.1,232.8 377.0,232.9C377.8,232.9 378.6,232.9 379.5,232.9C380.3,232.9 381.1,232.9 382.0,232.9C382.8,232.9 383.6,232.9 384.4,232.9C385.3,232.9 386.1,232.9 386.9,232.9C387.8,232.9 388.6,232.9 389.4,232.9C390.3,232.9 391.1,233.0 391.9,233.0C392.7,233.0 393.6,233.0 394.4,233.0C395.2,233.0 396.1,233.0 396.9,233.0C397.7,233.0 398.6,233.0 399.4,233.0C400.2,233.0 401.0,233.0 401.9,233.0C402.7,233.0 403.5,233.0 404.4,233.0C405.2,233.0 406.0,233.0 406.9,233.0C407.7,233.0 408.5,233.0 409.4,233.0C410.2,233.0 411.0,233.0 411.8,233.0C412.7,233.0 413.5,233.0 414.3,233.0C415.2,233.0 416.0,233.0 416.8,233.0C417.7,233.0 418.5,233.0 419.3,233.0C420.2,233.0 421.0,232.9 421.8,232.9C422.7,232.9 423.5,232.9 424.3,232.9C425.2,232.8 426.0,232.8 426.8,232.8C427.7,232.8 428.5,232.8 429.3,232.7C430.2,232.7 431.0,232.7 431.8,232.6C432.7,232.6 433.5,232.6 434.3,232.5C435.2,232.5 436.0,232.5 436.8,232.4C437.7,232.4 438.5,232.3 439.4,232.3C440.2,232.2 441.0,232.2 441.9,232.1C442.7,232.1 443.5,232.0 444.4,232.0C445.2,231.9 446.1,231.8 446.9,231.8C447.7,231.7 448.6,231.6 449.4,231.6C450.3,231.5 451.1,231.4 452.0,231.3C452.8,231.3 453.6,231.2 454.5,231.1C455.3,231.0 456.2,230.9 457.0,230.8C457.8,230.7 458.7,230.6 459.5,230.5C460.4,230.4 461.2,230.3 462.0,230.2C462.9,230.0 463.7,229.9 464.5,229.7C465.3,229.6 466.1,229.4 466.9,229.2C467.7,229.0 468.5,228.8 469.3,228.5C470.1,228.3 470.9,228.0 471.6,227.8C472.4,227.5 473.1,227.2 473.9,226.8C474.6,226.5 475.3,226.1 476.0,225.7C476.7,225.3 477.4,224.8 478.1,224.4C478.7,223.9 479.4,223.4 480.0,222.8C480.6,222.3 481.2,221.7 481.8,221.1C482.4,220.6 483.0,219.9 483.5,219.3C484.1,218.6 484.6,218.0 485.1,217.3C485.6,216.6 486.1,215.9 486.6,215.2C487.0,214.5 487.5,213.7 487.9,213.0C488.3,212.3 488.7,211.5 489.1,210.8C489.5,210.0 489.8,209.2 490.2,208.5C490.5,207.7 490.8,206.9 491.1,206.2C491.4,205.4 491.7,204.6 492.0,203.8C492.3,203.0 492.5,202.3 492.8,201.5C493.0,200.7 493.2,199.9 493.5,199.1C493.7,198.3 493.9,197.5 494.1,196.7C494.3,195.9 494.5,195.1 494.7,194.3C494.9,193.5 495.1,192.7 495.3,191.9C495.4,191.1 495.6,190.3 495.8,189.5C496.0,188.7 496.2,187.8 496.4,187.0C496.6,186.2 496.8,185.4 497.0,184.6C497.2,183.8 497.4,183.0 497.6,182.2C497.8,181.3 498.0,180.5 498.3,179.7C498.5,178.9 498.7,178.1 498.9,177.3C499.1,176.5 499.4,175.6 499.6,174.8C499.8,174.0 500.0,173.2 500.3,172.4C500.5,171.6 500.7,170.8 500.9,170.0C501.2,169.1 501.4,168.3 501.6,167.5C501.8,166.7 502.1,165.9 502.3,165.1C502.5,164.3 502.7,163.5 502.9,162.7C503.2,161.9 503.4,161.1 503.6,160.3C503.8,159.5 504.0,158.7 504.2,157.9C504.5,157.1 504.7,156.3 504.9,155.5C505.1,154.7 505.3,153.9 505.5,153.1C505.8,152.3 506.0,151.5 506.2,150.7C506.4,149.9 506.6,149.1 506.8,148.3C507.1,147.5 507.3,146.7 507.5,145.9C507.7,145.2 507.9,144.4 508.2,143.6C508.4,142.8 508.6,142.0 508.8,141.2C509.1,140.4 509.3,139.6 509.5,138.8C509.7,138.0 510.0,137.2 510.2,136.4C510.4,135.6 510.7,134.8 510.9,134.0C511.1,133.3 511.4,132.5 511.6,131.7C511.9,130.9 512.1,130.1 512.4,129.3C512.6,128.5 512.9,127.7 513.1,126.9C513.4,126.1 513.6,125.3 513.9,124.5C514.1,123.7 514.4,122.9 514.7,122.1C514.9,121.3 515.2,120.5 515.5,119.7C515.8,118.9 516.1,118.1 516.3,117.2C516.6,116.4 516.9,115.6 517.2,114.8C517.5,114.0 517.8,113.2 518.1,112.4C518.4,111.6 518.7,110.7 519.0,109.9C519.4,109.1 519.7,108.3 520.0,107.5C520.4,106.7 520.8,105.9 521.2,105.2C521.6,104.5 522.0,103.8 522.5,103.1C522.9,102.4 523.5,101.8 524.0,101.3C524.6,100.7 525.2,100.2 525.9,99.8C526.6,99.5 527.3,99.1 528.0,99.0C528.7,98.9 529.5,98.9 530.1,99.1C530.8,99.3 531.5,99.6 532.1,100.0C532.8,100.4 533.4,101.0 534.0,101.6C534.6,102.2 535.2,102.9 535.7,103.6C536.3,104.2 536.8,105.0 537.3,105.7C537.8,106.4 538.3,107.1 538.8,107.9C539.2,108.6 539.6,109.4 540.1,110.1C540.5,110.8 540.9,111.6 541.3,112.3C541.6,113.1 542.0,113.8 542.4,114.6C542.7,115.3 543.1,116.1 543.4,116.8C543.7,117.6 544.0,118.3 544.3,119.1C544.7,119.9 545.0,120.6 545.3,121.4C545.6,122.2 545.9,122.9 546.2,123.7C546.5,124.5 546.8,125.2 547.1,126.0C547.4,126.8 547.7,127.5 548.0,128.3C548.3,129.1 548.6,129.8 548.9,130.6C549.2,131.4 549.6,132.1 549.9,132.9C550.2,133.7 550.6,134.4 550.9,135.2C551.3,136.0 551.6,136.7 552.0,137.5C552.3,138.3 552.7,139.0 553.1,139.8C553.5,140.5 553.9,141.3 554.3,142.0C554.7,142.8 555.1,143.5 555.5,144.2C555.9,145.0 556.3,145.7 556.8,146.4C557.2,147.1 557.6,147.9 558.1,148.6C558.5,149.3 559.0,150.0 559.4,150.7C559.9,151.4 560.4,152.1 560.9,152.8C561.4,153.4 561.8,154.1 562.3,154.8C562.8,155.4 563.4,156.1 563.9,156.8C564.4,157.4 564.9,158.0 565.5,158.7C566.0,159.3 566.5,159.9 567.1,160.6C567.6,161.2 568.2,161.8 568.8,162.4C569.3,163.0 569.9,163.6 570.5,164.2C571.1,164.8 571.7,165.3 572.3,165.9C572.9,166.5 573.5,167.0 574.1,167.6C574.7,168.2 575.3,168.7 575.9,169.2C576.6,169.8 577.2,170.3 577.8,170.8C578.5,171.4 579.1,171.9 579.8,172.4C580.4,172.9 581.1,173.4 581.8,173.9C582.4,174.4 583.1,174.9 583.8,175.3C584.4,175.8 585.1,176.3 585.8,176.7C586.5,177.2 587.2,177.7 587.9,178.1C588.6,178.6 589.3,179.0 590.0,179.4C590.7,179.9 591.4,180.3 592.2,180.7C592.9,181.1 593.6,181.5 594.3,181.9C595.1,182.3 595.8,182.7 596.5,183.1C597.3,183.5 598.0,183.9 598.8,184.2C599.5,184.6 600.3,185.0 601.0,185.3C601.8,185.7 602.6,186.0 603.3,186.4C604.1,186.7 604.9,187.0 605.6,187.4C606.4,187.7 607.2,188.0 608.0,188.3C608.7,188.6 609.5,188.9 610.3,189.2C611.1,189.5 611.9,189.8 612.7,190.1C613.5,190.4 614.3,190.6 615.0,190.9C615.8,191.2 616.6,191.4 617.4,191.7C618.2,191.9 619.1,192.2 619.9,192.4C620.7,192.7 621.5,192.9 622.3,193.1C623.1,193.3 623.9,193.5 624.7,193.7C625.5,194.0 626.3,194.2 627.2,194.3C628.0,194.5 628.8,194.7 629.6,194.9C630.4,195.1 631.3,195.3 632.1,195.4C632.9,195.6 633.7,195.7 634.6,195.9C635.4,196.0 636.2,196.2 637.0,196.3C637.8,196.4 638.7,196.6 639.5,196.7C640.3,196.8 641.2,196.9 642.0,197.0C642.8,197.1 643.6,197.2 644.5,197.3C645.3,197.4 646.1,197.5 646.9,197.6C647.8,197.7 648.6,197.7 649.4,197.8C650.2,197.9 651.1,197.9 651.9,198.0C652.7,198.0 653.5,198.1 654.3,198.1C655.2,198.1 656.4,198.2 656.8,198.2 C656.8,198.6 656.8,199.8 656.8,200.6C656.8,201.4 656.8,202.2 656.7,203.0C656.7,203.8 656.7,204.6 656.6,205.4C656.6,206.3 656.6,207.1 656.5,207.9C656.5,208.8 656.4,209.6 656.3,210.4C656.3,211.3 656.2,212.1 656.1,213.0C656.0,213.8 655.9,214.7 655.8,215.5C655.7,216.4 655.6,217.2 655.5,218.1C655.3,218.9 655.2,219.8 655.0,220.6C654.9,221.5 654.7,222.3 654.5,223.2C654.4,224.0 654.2,224.8 654.0,225.7C653.8,226.5 653.5,227.3 653.3,228.1C653.1,229.0 652.8,229.8 652.6,230.6C652.3,231.4 652.0,232.2 651.7,233.0C651.4,233.8 651.1,234.6 650.8,235.3C650.5,236.1 650.1,236.9 649.8,237.6C649.4,238.4 649.0,239.1 648.7,239.8C648.3,240.6 647.8,241.3 647.4,242.0C647.0,242.7 646.5,243.4 646.0,244.0C645.6,244.7 645.1,245.4 644.6,246.0C644.1,246.7 643.5,247.3 643.0,247.9C642.4,248.5 641.8,249.1 641.2,249.6C640.6,250.2 640.0,250.8 639.4,251.3C638.8,251.8 638.1,252.3 637.4,252.8C636.8,253.4 636.1,253.8 635.4,254.3C634.7,254.8 634.0,255.2 633.3,255.7C632.6,256.1 631.8,256.5 631.1,256.9C630.4,257.3 629.6,257.7 628.9,258.1C628.1,258.4 627.3,258.8 626.6,259.1C625.8,259.5 625.0,259.8 624.2,260.1C623.4,260.4 622.6,260.7 621.8,261.0C621.1,261.3 620.3,261.5 619.5,261.8C618.7,262.0 617.9,262.3 617.1,262.5C616.2,262.7 615.4,262.9 614.6,263.1C613.8,263.3 613.0,263.5 612.2,263.7C611.4,263.9 610.5,264.0 609.7,264.2C608.9,264.4 608.1,264.5 607.3,264.7C606.4,264.8 605.6,264.9 604.8,265.1C603.9,265.2 603.1,265.3 602.3,265.4C601.5,265.6 600.6,265.7 599.8,265.8C599.0,265.9 598.1,266.0 597.3,266.1C596.5,266.2 595.6,266.3 594.8,266.4C594.0,266.5 593.1,266.6 592.3,266.7C591.5,266.8 590.6,266.9 589.8,267.0C589.0,267.1 588.1,267.2 587.3,267.3C586.5,267.4 585.6,267.5 584.8,267.6C584.0,267.7 583.1,267.8 582.3,267.9C581.5,268.0 580.6,268.1 579.8,268.2C579.0,268.3 578.2,268.4 577.3,268.5C576.5,268.5 575.7,268.6 574.8,268.7C574.0,268.8 573.2,268.9 572.3,269.0C571.5,269.1 570.7,269.2 569.8,269.3C569.0,269.4 568.2,269.5 567.4,269.6C566.5,269.7 565.7,269.8 564.9,269.9C564.0,270.0 563.2,270.1 562.4,270.3C561.6,270.4 560.7,270.5 559.9,270.6C559.1,270.7 558.2,270.8 557.4,270.9C556.6,271.0 555.8,271.2 554.9,271.3C554.1,271.4 553.3,271.5 552.5,271.7C551.6,271.8 550.8,271.9 550.0,272.1C549.2,272.2 548.3,272.3 547.5,272.5C546.7,272.6 545.9,272.8 545.1,272.9C544.2,273.0 543.4,273.2 542.6,273.4C541.8,273.5 540.9,273.7 540.1,273.8C539.3,274.0 538.5,274.2 537.7,274.3C536.8,274.5 536.0,274.7 535.2,274.9C534.4,275.1 533.6,275.2 532.8,275.4C531.9,275.6 531.1,275.8 530.3,276.0C529.5,276.2 528.7,276.4 527.9,276.6C527.0,276.9 526.2,277.1 525.4,277.3C524.6,277.5 523.8,277.8 523.0,278.0C522.2,278.3 521.4,278.5 520.6,278.8C519.8,279.1 519.0,279.4 518.3,279.7C517.5,280.0 516.7,280.3 515.9,280.6C515.2,280.9 514.4,281.3 513.7,281.7C512.9,282.0 512.2,282.4 511.5,282.8C510.8,283.2 510.0,283.7 509.4,284.1C508.7,284.6 508.0,285.0 507.3,285.5C506.6,286.0 506.0,286.5 505.3,287.1C504.7,287.6 504.0,288.1 503.4,288.7C502.8,289.3 502.1,289.8 501.5,290.4C500.9,291.0 500.3,291.6 499.7,292.2C499.1,292.9 498.6,293.5 498.0,294.1C497.4,294.7 496.9,295.4 496.3,296.0C495.8,296.6 495.2,297.3 494.7,297.9C494.1,298.5 493.6,299.2 493.1,299.8C492.5,300.4 492.0,301.1 491.5,301.7C491.0,302.3 490.5,302.9 490.0,303.6C489.5,304.2 489.0,304.8 488.5,305.4C488.0,306.1 487.5,306.7 487.0,307.4C486.5,308.0 486.0,308.7 485.4,309.3C484.9,310.0 484.4,310.7 483.9,311.4C483.4,312.1 482.9,312.8 482.3,313.5C481.8,314.3 481.3,315.0 480.7,315.8C480.2,316.5 479.6,317.3 479.0,317.9C478.4,318.6 477.8,319.3 477.2,319.8C476.6,320.4 476.0,320.9 475.3,321.3C474.6,321.7 473.9,322.0 473.2,322.2C472.5,322.4 471.7,322.4 471.0,322.4C470.3,322.3 469.5,322.1 468.8,321.8C468.1,321.5 467.4,321.1 466.7,320.6C466.1,320.1 465.4,319.6 464.8,319.0C464.2,318.5 463.6,317.9 463.1,317.2C462.5,316.6 462.0,316.0 461.5,315.3C461.0,314.6 460.5,313.9 460.0,313.2C459.5,312.5 459.1,311.7 458.6,311.0C458.2,310.3 457.8,309.5 457.4,308.7C457.0,308.0 456.6,307.2 456.2,306.4C455.8,305.7 455.4,304.9 455.0,304.1C454.7,303.3 454.3,302.6 453.9,301.8C453.6,301.0 453.2,300.3 452.9,299.5C452.5,298.8 452.2,298.0 451.8,297.2C451.5,296.5 451.2,295.7 450.8,295.0C450.5,294.2 450.2,293.5 449.8,292.7C449.5,292.0 449.2,291.2 448.8,290.5C448.5,289.7 448.2,289.0 447.8,288.2C447.5,287.5 447.1,286.7 446.8,286.0C446.5,285.2 446.1,284.5 445.8,283.7C445.4,283.0 445.1,282.2 444.7,281.4C444.3,280.7 444.0,279.9 443.6,279.2C443.2,278.4 442.8,277.7 442.4,276.9C442.0,276.2 441.6,275.5 441.1,274.8C440.7,274.1 440.2,273.4 439.7,272.8C439.1,272.1 438.5,271.5 438.0,270.9C437.4,270.4 436.7,269.8 436.1,269.2C435.5,268.7 434.8,268.1 434.2,267.6C433.6,267.1 432.9,266.5 432.3,266.0C431.6,265.4 431.0,264.9 430.3,264.4C429.7,263.9 429.0,263.3 428.3,262.8C427.7,262.3 427.0,261.8 426.3,261.3C425.6,260.8 425.0,260.3 424.3,259.9C423.6,259.4 422.9,258.9 422.2,258.5C421.5,258.0 420.8,257.6 420.1,257.1C419.3,256.7 418.6,256.3 417.9,255.9C417.2,255.5 416.4,255.1 415.7,254.7C414.9,254.3 414.2,254.0 413.4,253.6C412.7,253.3 411.9,252.9 411.2,252.6C410.4,252.3 409.6,251.9 408.8,251.6C408.1,251.3 407.3,251.0 406.5,250.7C405.7,250.4 404.9,250.2 404.1,249.9C403.3,249.6 402.6,249.3 401.8,249.1C401.0,248.8 400.2,248.6 399.3,248.4C398.5,248.1 397.7,247.9 396.9,247.7C396.1,247.4 395.3,247.2 394.5,247.0C393.7,246.8 392.9,246.6 392.0,246.4C391.2,246.2 390.4,246.0 389.6,245.8C388.8,245.6 388.0,245.4 387.1,245.3C386.3,245.1 385.5,244.9 384.7,244.8C383.9,244.6 383.0,244.4 382.2,244.3C381.4,244.1 380.6,244.0 379.7,243.8C378.9,243.7 378.1,243.5 377.3,243.4C376.4,243.2 375.6,243.1 374.8,243.0C374.0,242.8 373.1,242.7 372.3,242.6C371.5,242.5 370.7,242.3 369.8,242.2C369.0,242.1 368.2,242.0 367.3,241.9C366.5,241.8 365.7,241.7 364.9,241.6C364.0,241.5 363.2,241.4 362.4,241.3C361.5,241.2 360.7,241.1 359.9,241.0C359.0,240.9 358.2,240.8 357.4,240.8C356.5,240.7 355.7,240.6 354.9,240.5C354.0,240.4 353.2,240.4 352.4,240.3C351.5,240.2 350.7,240.1 349.9,240.1C349.0,240.0 348.2,239.9 347.4,239.9C346.5,239.8 345.7,239.7 344.9,239.7C344.0,239.6 343.2,239.6 342.4,239.5C341.5,239.4 340.7,239.4 339.9,239.3C339.0,239.3 338.2,239.2 337.4,239.2C336.5,239.1 335.7,239.1 334.8,239.0C334.0,239.0 333.2,238.9 332.3,238.9C331.5,238.8 330.7,238.8 329.8,238.7C329.0,238.7 328.2,238.6 327.3,238.6C326.5,238.5 325.7,238.5 324.8,238.4C324.0,238.4 323.1,238.4 322.3,238.3C321.5,238.3 320.6,238.2 319.8,238.2C319.0,238.1 318.1,238.1 317.3,238.0C316.5,238.0 315.6,238.0 314.8,237.9C313.9,237.9 313.1,237.8 312.3,237.8C311.4,237.8 310.6,237.7 309.8,237.7C308.9,237.6 308.1,237.6 307.3,237.6C306.4,237.5 305.6,237.5 304.7,237.5C303.9,237.4 303.1,237.4 302.2,237.3C301.4,237.3 300.6,237.3 299.7,237.2C298.9,237.2 298.1,237.2 297.2,237.1C296.4,237.1 295.5,237.1 294.7,237.0C293.9,237.0 293.0,237.0 292.2,236.9C291.4,236.9 290.5,236.9 289.7,236.8C288.9,236.8 288.0,236.8 287.2,236.8C286.3,236.7 285.5,236.7 284.7,236.7C283.8,236.6 283.0,236.6 282.2,236.6C281.3,236.6 280.5,236.5 279.7,236.5C278.8,236.5 278.0,236.4 277.1,236.4C276.3,236.4 275.5,236.4 274.6,236.3C273.8,236.3 273.0,236.3 272.1,236.3C271.3,236.2 270.5,236.2 269.6,236.2C268.8,236.2 267.9,236.2 267.1,236.1C266.3,236.1 265.4,236.1 264.6,236.1C263.8,236.1 262.9,236.0 262.1,236.0C261.3,236.0 260.4,236.0 259.6,236.0C258.7,235.9 257.9,235.9 257.1,235.9C256.2,235.9 255.4,235.9 254.6,235.8C253.7,235.8 252.9,235.8 252.0,235.8C251.2,235.8 250.4,235.8 249.5,235.8C248.7,235.7 247.9,235.7 247.0,235.7C246.2,235.7 245.4,235.7 244.5,235.7C243.7,235.7 242.8,235.6 242.0,235.6C241.2,235.6 240.3,235.6 239.5,235.6C238.7,235.6 237.8,235.6 237.0,235.6C236.1,235.6 235.3,235.5 234.5,235.5C233.6,235.5 232.8,235.5 232.0,235.5C231.1,235.5 230.3,235.5 229.5,235.5C228.6,235.5 227.8,235.5 226.9,235.5C226.1,235.5 225.3,235.4 224.4,235.4C223.6,235.4 222.8,235.4 221.9,235.4C221.1,235.4 220.2,235.4 219.4,235.4C218.6,235.4 217.3,235.4 216.9,235.4"/>
</g>
<g stroke="#000" stroke-width="2.4" fill="none">
<path d="M108.6,5.7 V395.3"/>
<path d="M107.39999999999999,394.1 H772.8"/>
<path d="M103.19999999999999,394.1 H108.6"/>
<path d="M97.6,361.2 H108.6"/>
<path d="M103.19999999999999,329.0 H108.6"/>
<path d="M97.6,296.7 H108.6"/>
<path d="M103.19999999999999,264.5 H108.6"/>
<path d="M97.6,232.3 H108.6"/>
<path d="M103.19999999999999,200.1 H108.6"/>
<path d="M97.6,167.9 H108.6"/>
<path d="M103.19999999999999,135.6 H108.6"/>
<path d="M97.6,103.4 H108.6"/>
<path d="M103.19999999999999,71.2 H108.6"/>
<path d="M97.6,39.0 H108.6"/>
<path d="M103.19999999999999,6.9 H108.6"/>
<path d="M108.5,394.1 V404.6"/>
<path d="M163.8,394.1 V399.1"/>
<path d="M219.0,394.1 V404.6"/>
<path d="M274.3,394.1 V399.1"/>
<path d="M329.6,394.1 V404.6"/>
<path d="M384.8,394.1 V399.1"/>
<path d="M440.1,394.1 V404.6"/>
<path d="M495.3,394.1 V399.1"/>
<path d="M550.6,394.1 V404.6"/>
<path d="M605.9,394.1 V399.1"/>
<path d="M661.1,394.1 V404.6"/>
<path d="M716.4,394.1 V399.1"/>
<path d="M771.7,394.1 V404.6"/>
</g>
<g font-family="'Liberation Sans', Arial, sans-serif" font-size="28.9" fill="#000" stroke="#000" style="font-kerning:none" stroke-width="0.35" stroke-linejoin="round">
<text x="90" y="48.3" text-anchor="end">1,5</text>
<text x="90" y="112.7" text-anchor="end">1,0</text>
<text x="90" y="177.2" text-anchor="end">0,5</text>
<text x="90" y="241.6" text-anchor="end">0,0</text>
<text x="90" y="306.0" text-anchor="end">-0,5</text>
<text x="90" y="370.5" text-anchor="end">-1,0</text>
<text x="108.8" y="434.6" text-anchor="middle">2,0</text>
<text x="219.3" y="434.6" text-anchor="middle">2,5</text>
<text x="329.9" y="434.6" text-anchor="middle">3,0</text>
<text x="440.4" y="434.6" text-anchor="middle">3,5</text>
<text x="550.9" y="434.6" text-anchor="middle">4,0</text>
<text x="661.4" y="434.6" text-anchor="middle">4,5</text>
<text x="772.0" y="434.6" text-anchor="middle">5,0</text>
<path d="M160.6,81.6 H227.2" stroke="#515151" stroke-width="2.4"/>
<text x="234.6" y="90.8">bare NCM111</text>
<path d="M160.6,117.0 H227.2" stroke="#F14040" stroke-width="2.4"/>
<text x="234.6" y="126.2" letter-spacing="0.12">C_150_150</text>
<path d="M160.6,152.5 H227.2" stroke="#1A6FDF" stroke-width="2.4"/>
<text x="234.6" y="161.7" letter-spacing="0.12">C_150_300</text>
<g font-size="28.8">
<text x="543.8" y="21.4" fill="#FF0000" stroke="#FF0000">3.86 V</text>
<text x="551.2" y="69.6" fill="#000">3.87 V</text>
<text x="580.4" y="102.6" fill="#1A6FDF" stroke="#1A6FDF">3.9 V</text>
<text x="519" y="323.9" fill="#1A6FDF" stroke="#1A6FDF">3.64 V</text>
<text x="517" y="351.6" fill="#000">3.64 V</text>
<text x="512.2" y="379.2" fill="#F14040" stroke="#F14040">3.66 V</text>
</g>
</g>
<g font-family="'Liberation Sans', Arial, sans-serif" font-size="34" fill="#000" stroke="#000" style="font-kerning:none" stroke-width="0.35" stroke-linejoin="round">
<text x="407.3" y="488" letter-spacing="0.5">E, V</text>
<text transform="translate(25.6,240) rotate(-90)">I, mA</text>
</g>
<path d="M544.5,15.2 L532.9,27.2" stroke="#FF0000" stroke-width="1" fill="none"/><path d="M523.3,37.0 L530.5,24.9 L535.2,29.5Z" fill="#FF0000"/>
<path d="M552.2,63.2 L533.3,82.4" stroke="#000" stroke-width="1.3" fill="none"/><path d="M523.7,92.2 L530.9,80.1 L535.7,84.7Z" fill="#000"/>
<path d="M578.6,87.5 L545.2,94.4" stroke="#1A6FDF" stroke-width="1" fill="none"/><path d="M531.8,97.2 L544.5,91.2 L545.9,97.7Z" fill="#1A6FDF"/>
<path d="M517.0,310.2 L492.7,316.8" stroke="#1A6FDF" stroke-width="1" fill="none"/><path d="M479.5,320.4 L491.9,313.6 L493.6,320.0Z" fill="#1A6FDF"/>
<path d="M514.0,336.6 L495.5,334.5" stroke="#000" stroke-width="1.3" fill="none"/><path d="M481.9,332.9 L495.9,331.2 L495.1,337.7Z" fill="#000"/>
<path d="M509.8,363.3 L495.4,361.2" stroke="#FF0000" stroke-width="1" fill="none"/><path d="M481.8,359.3 L495.8,358.0 L494.9,364.5Z" fill="#FF0000"/>
</svg>
</body></html>
